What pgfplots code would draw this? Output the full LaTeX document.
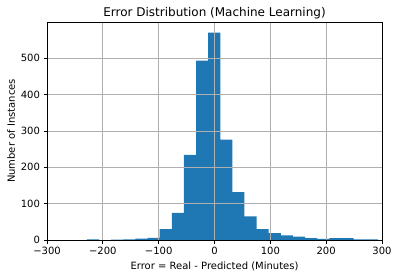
\documentclass[border=0pt]{standalone}
\usepackage{fontspec}
\setmainfont{DejaVu Sans}
\usepackage{pgfplots}
\pgfplotsset{compat=1.18}
\definecolor{mplblue}{HTML}{1F77B4}
\definecolor{mplgrid}{HTML}{B0B0B0}
\begin{document}
\begin{tikzpicture}
\begin{axis}[
  width=335pt, height=218pt, scale only axis,
  xmin=-300, xmax=300, ymin=0, ymax=600,
  xtick={-300,-200,-100,0,100,200,300},
  xticklabels={−300,−200,−100,0,100,200,300},
  ytick={0,100,200,300,400,500},
  yticklabels={0,100,200,300,400,500},
  tick align=outside, tick pos=left,
  major tick length=3.5pt,
  every tick/.style={black, line width=0.8pt},
  grid=major,
  major grid style={mplgrid, line width=0.8pt},
  axis line style={black, line width=0.8pt},
  axis on top,
  tick label style={font=\fontsize{10}{12}\selectfont},
  title={Error Distribution (Machine Learning)},
  title style={font=\fontsize{12}{14}\selectfont, yshift=-7pt},
  xlabel={Error = Real - Predicted (Minutes)},
  ylabel={Number of Instances},
  label style={font=\fontsize{10}{12}\selectfont},
  xlabel style={yshift=0pt},
  ylabel style={yshift=-1pt},
]
\addplot[ybar interval, fill=mplblue, draw=none] coordinates {
(-228.4,2) (-206.7,0) (-185.0,1) (-163.3,2) (-141.6,4) (-119.9,6)
(-98.2,30) (-76.5,75) (-54.8,234) (-33.1,494) (-11.4,571) (10.3,276)
(32.0,132) (53.7,65) (75.4,30) (97.1,19) (118.8,13) (140.5,9)
(162.2,5) (183.9,3) (205.6,5) (227.3,5) (249.0,2) (270.7,2) (292.4,2)
};
\end{axis}
\pgfresetboundingbox
\path[use as bounding box] ([xshift=-47pt,yshift=-38pt]current axis.south west) rectangle ([xshift=16pt,yshift=22pt]current axis.north east);
\end{tikzpicture}
\end{document}
